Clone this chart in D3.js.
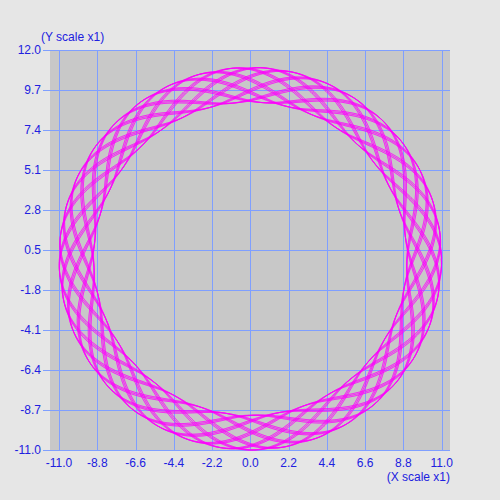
<!DOCTYPE html>
<meta charset="utf-8">
<style>
    body { margin: 0; background: #e6e6e6; }
    svg { display: block; font-family: "Liberation Sans", Arial, sans-serif; }
    .grid line { stroke: #7f9fff; stroke-width: 1; }
    .lbl { fill: #2020e0; font-size: 12px; }
</style>
<svg width="500" height="500"></svg>
<script src="https://cdnjs.cloudflare.com/ajax/libs/d3/7.8.5/d3.min.js"></script>
<script>

    // tick labels
    var xTicks = [-11.0, -8.8, -6.6, -4.4, -2.2, 0.0, 2.2, 4.4, 6.6, 8.8, 11.0];
    var yTicks = [-11.0, -8.7, -6.4, -4.1, -1.8, 0.5, 2.8, 5.1, 7.4, 9.7, 12.0];

    // curve: polar ring r = base + wave * cos(lobes * angle)
    var ringBase = [10];
    var ringWave = [1];
    var ringLobes = [4.6267];
    var turns = 24;
    var samples = 45000;

    var svg = d3.select("svg"),
        plot = {left: 50, top: 50, right: 450, bottom: 450};

    var x = d3.scaleLinear().domain([-11.52, 11.48]).range([plot.left, plot.right]);
    var y = d3.scaleLinear().domain([-11, 12]).range([plot.bottom, plot.top]);

    svg.append("rect")
        .attr("x", plot.left).attr("y", plot.top)
        .attr("width", plot.right - plot.left).attr("height", plot.bottom - plot.top)
        .attr("fill", "#c8c8c8");

    var grid = svg.append("g").attr("class", "grid");
    grid.selectAll(".gx").data(xTicks).enter().append("line")
        .attr("x1", function(d) { return Math.round(x(d)) + 0.5; })
        .attr("x2", function(d) { return Math.round(x(d)) + 0.5; })
        .attr("y1", plot.top).attr("y2", plot.bottom + 1);
    grid.selectAll(".gy").data(yTicks).enter().append("line")
        .attr("x1", plot.left - 7).attr("x2", plot.right)
        .attr("y1", function(d) { return Math.round(y(d)) + 0.5; })
        .attr("y2", function(d) { return Math.round(y(d)) + 0.5; });

    // the curve
    var pts = d3.range(samples + 1).map(function(i) {
        var a = i / samples * turns * 2 * Math.PI;
        var r = ringBase[0] + ringWave[0] * Math.cos(ringLobes[0] * a);
        return [r * Math.cos(a), r * Math.sin(a)];
    });

    var line = d3.line()
        .x(function(d) { return x(d[0]); })
        .y(function(d) { return y(d[1]); });

    svg.append("path")
        .datum(pts)
        .attr("d", line)
        .attr("fill", "none")
        .attr("stroke", "#ff00ff")
        .attr("stroke-width", 1);

    // tick labels
    svg.selectAll(".xl").data(xTicks).enter().append("text")
        .attr("class", "lbl")
        .attr("x", function(d) { return x(d); })
        .attr("y", 467)
        .attr("text-anchor", "middle")
        .text(function(d) { return d.toFixed(1); });

    svg.selectAll(".yl").data(yTicks).enter().append("text")
        .attr("class", "lbl")
        .attr("x", 41)
        .attr("y", function(d) { return y(d) + 4; })
        .attr("text-anchor", "end")
        .text(function(d) { return d.toFixed(1); });

    svg.append("text").attr("class", "lbl")
        .attr("x", 41).attr("y", 41)
        .text("(Y scale x1)");

    svg.append("text").attr("class", "lbl")
        .attr("x", 450).attr("y", 481)
        .attr("text-anchor", "end")
        .text("(X scale x1)");

</script>
